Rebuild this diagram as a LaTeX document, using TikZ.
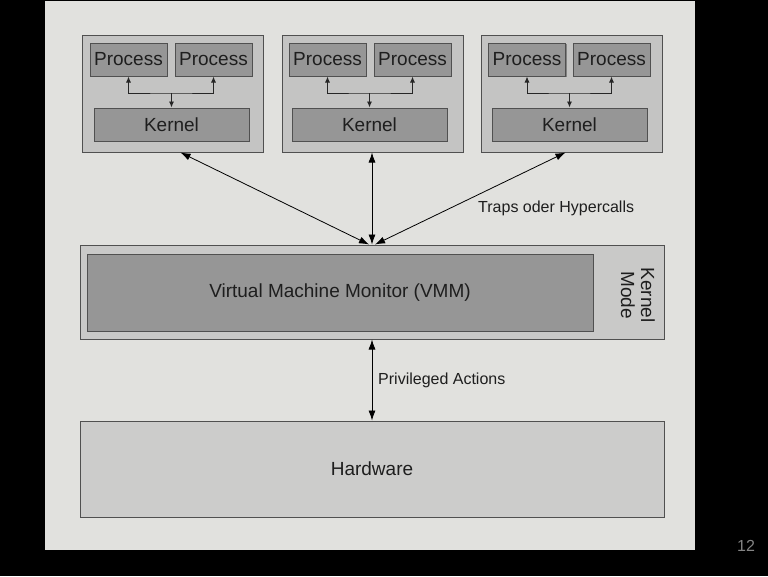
\documentclass[tikz,border=0pt]{standalone}
\usepackage{fontspec}
\setmainfont{Liberation Sans}
\usepackage{xcolor}
\usetikzlibrary{arrows.meta,positioning,calc,shadows}
\definecolor{Slide}{RGB}{225,225,222}
\definecolor{VMc}{RGB}{196,196,195}
\definecolor{Procc}{RGB}{150,150,150}
\definecolor{Modec}{RGB}{201,201,200}
\definecolor{HWc}{RGB}{204,204,203}
\definecolor{Ink}{RGB}{30,30,30}
\definecolor{Edge}{RGB}{80,80,80}
\tikzset{
  shade/.style={drop shadow={shadow xshift=1.3pt,shadow yshift=-1.3pt,
                opacity=0.55,fill=black!70}},
  box/.style={rectangle,draw=Edge,line width=1pt,inner sep=0pt,
              text=Ink,font=\fontsize{19}{22}\selectfont,shade},
  vm/.style={box,fill=VMc,minimum width=181pt,minimum height=117pt},
  proc/.style={box,fill=Procc,minimum width=77pt,minimum height=33pt},
  kern/.style={box,fill=Procc,minimum width=155pt,minimum height=33pt},
  layer/.style={box,fill=Modec,minimum width=584pt,minimum height=94pt},
  lbl/.style={text=Ink,font=\fontsize{16}{19}\selectfont,inner sep=0pt},
  sys/.style={{Latex[length=6pt,width=5pt]}-{Latex[length=6pt,width=5pt]},
              line width=0.9pt,black!85},
  down/.style={-{Latex[length=6pt,width=5pt]},line width=0.9pt,black!85},
  call/.style={{Latex[length=10pt,width=7pt]}-{Latex[length=10pt,width=7pt]},
               line width=0.8pt,black},
}
\begin{document}
\begin{tikzpicture}[x=1pt,y=-1pt]
  \fill[black] (0,0) rectangle (768,576);
  \useasboundingbox (0,0) rectangle (768,576);
  \fill[Slide] (45,1) rectangle (695,550);

  % three guest machines
  \node[vm] (vm1) at (172.5,93.5) {};
  \node[vm] (vm2) at (372.5,93.5) {};
  \node[vm] (vm3) at (571.5,93.5) {};

  \node[proc] (p11) at (128.5,59.5) {Process};
  \node[proc] (p12) at (213.5,59.5) {Process};
  \node[kern] (k1)  at (171.5,124.5) {Kernel};
  \coordinate (j1) at (171.5,93);

  \node[proc] (p21) at (327.5,59.5) {Process};
  \node[proc] (p22) at (412.5,59.5) {Process};
  \node[kern] (k2)  at (369.5,124.5) {Kernel};
  \coordinate (j2) at (369.5,93);

  \node[proc] (p31) at (527,59.5) {Process};
  \node[proc] (p32) at (611.5,59.5) {Process};
  \node[kern] (k3)  at (569.5,124.5) {Kernel};
  \coordinate (j3) at (569.5,93);

  \draw[sys] (p11.south) |- (j1) -| (p12.south);
  \draw[down] (j1) -- (k1.north);
  \draw[sys] (p21.south) |- (j2) -| (p22.south);
  \draw[down] (j2) -- (k2.north);
  \draw[sys] (p31.south) |- (j3) -| (p32.south);
  \draw[down] (j3) -- (k3.north);

  % hypervisor layer
  \node[layer] (kmode) at (372,292) {};
  \node[box,fill=Procc,minimum width=506pt,minimum height=77pt] (vmm) at (340,292.5)
       {Virtual Machine Monitor (VMM)};
  \node[text=Ink,font=\fontsize{19}{20}\selectfont,align=center,rotate=-90,inner sep=0pt]
       (mode) at (638,295) {Kernel\\Mode};

  \draw[call] ([xshift=8pt]vm1.south) -- ([xshift=-3pt]kmode.north);
  \draw[call] (vm2.south -| kmode.north) -- (kmode.north);
  \draw[call] ([xshift=-6pt]vm3.south) -- ([xshift=3pt]kmode.north);
  \node[lbl,anchor=west] (traps) at (478,208) {Traps oder Hypercalls};

  % hardware
  \node[layer,fill=HWc,minimum height=96pt] (hw) at (372,469) {Hardware};
  \draw[call] (kmode.south) -- (hw.north);
  \node[lbl,anchor=west] (priv) at (378,380) {Privileged Actions};

  \node[text=black!48,font=\fontsize{16}{18}\selectfont] (page) at (746,546) {12};
\end{tikzpicture}
\end{document}
